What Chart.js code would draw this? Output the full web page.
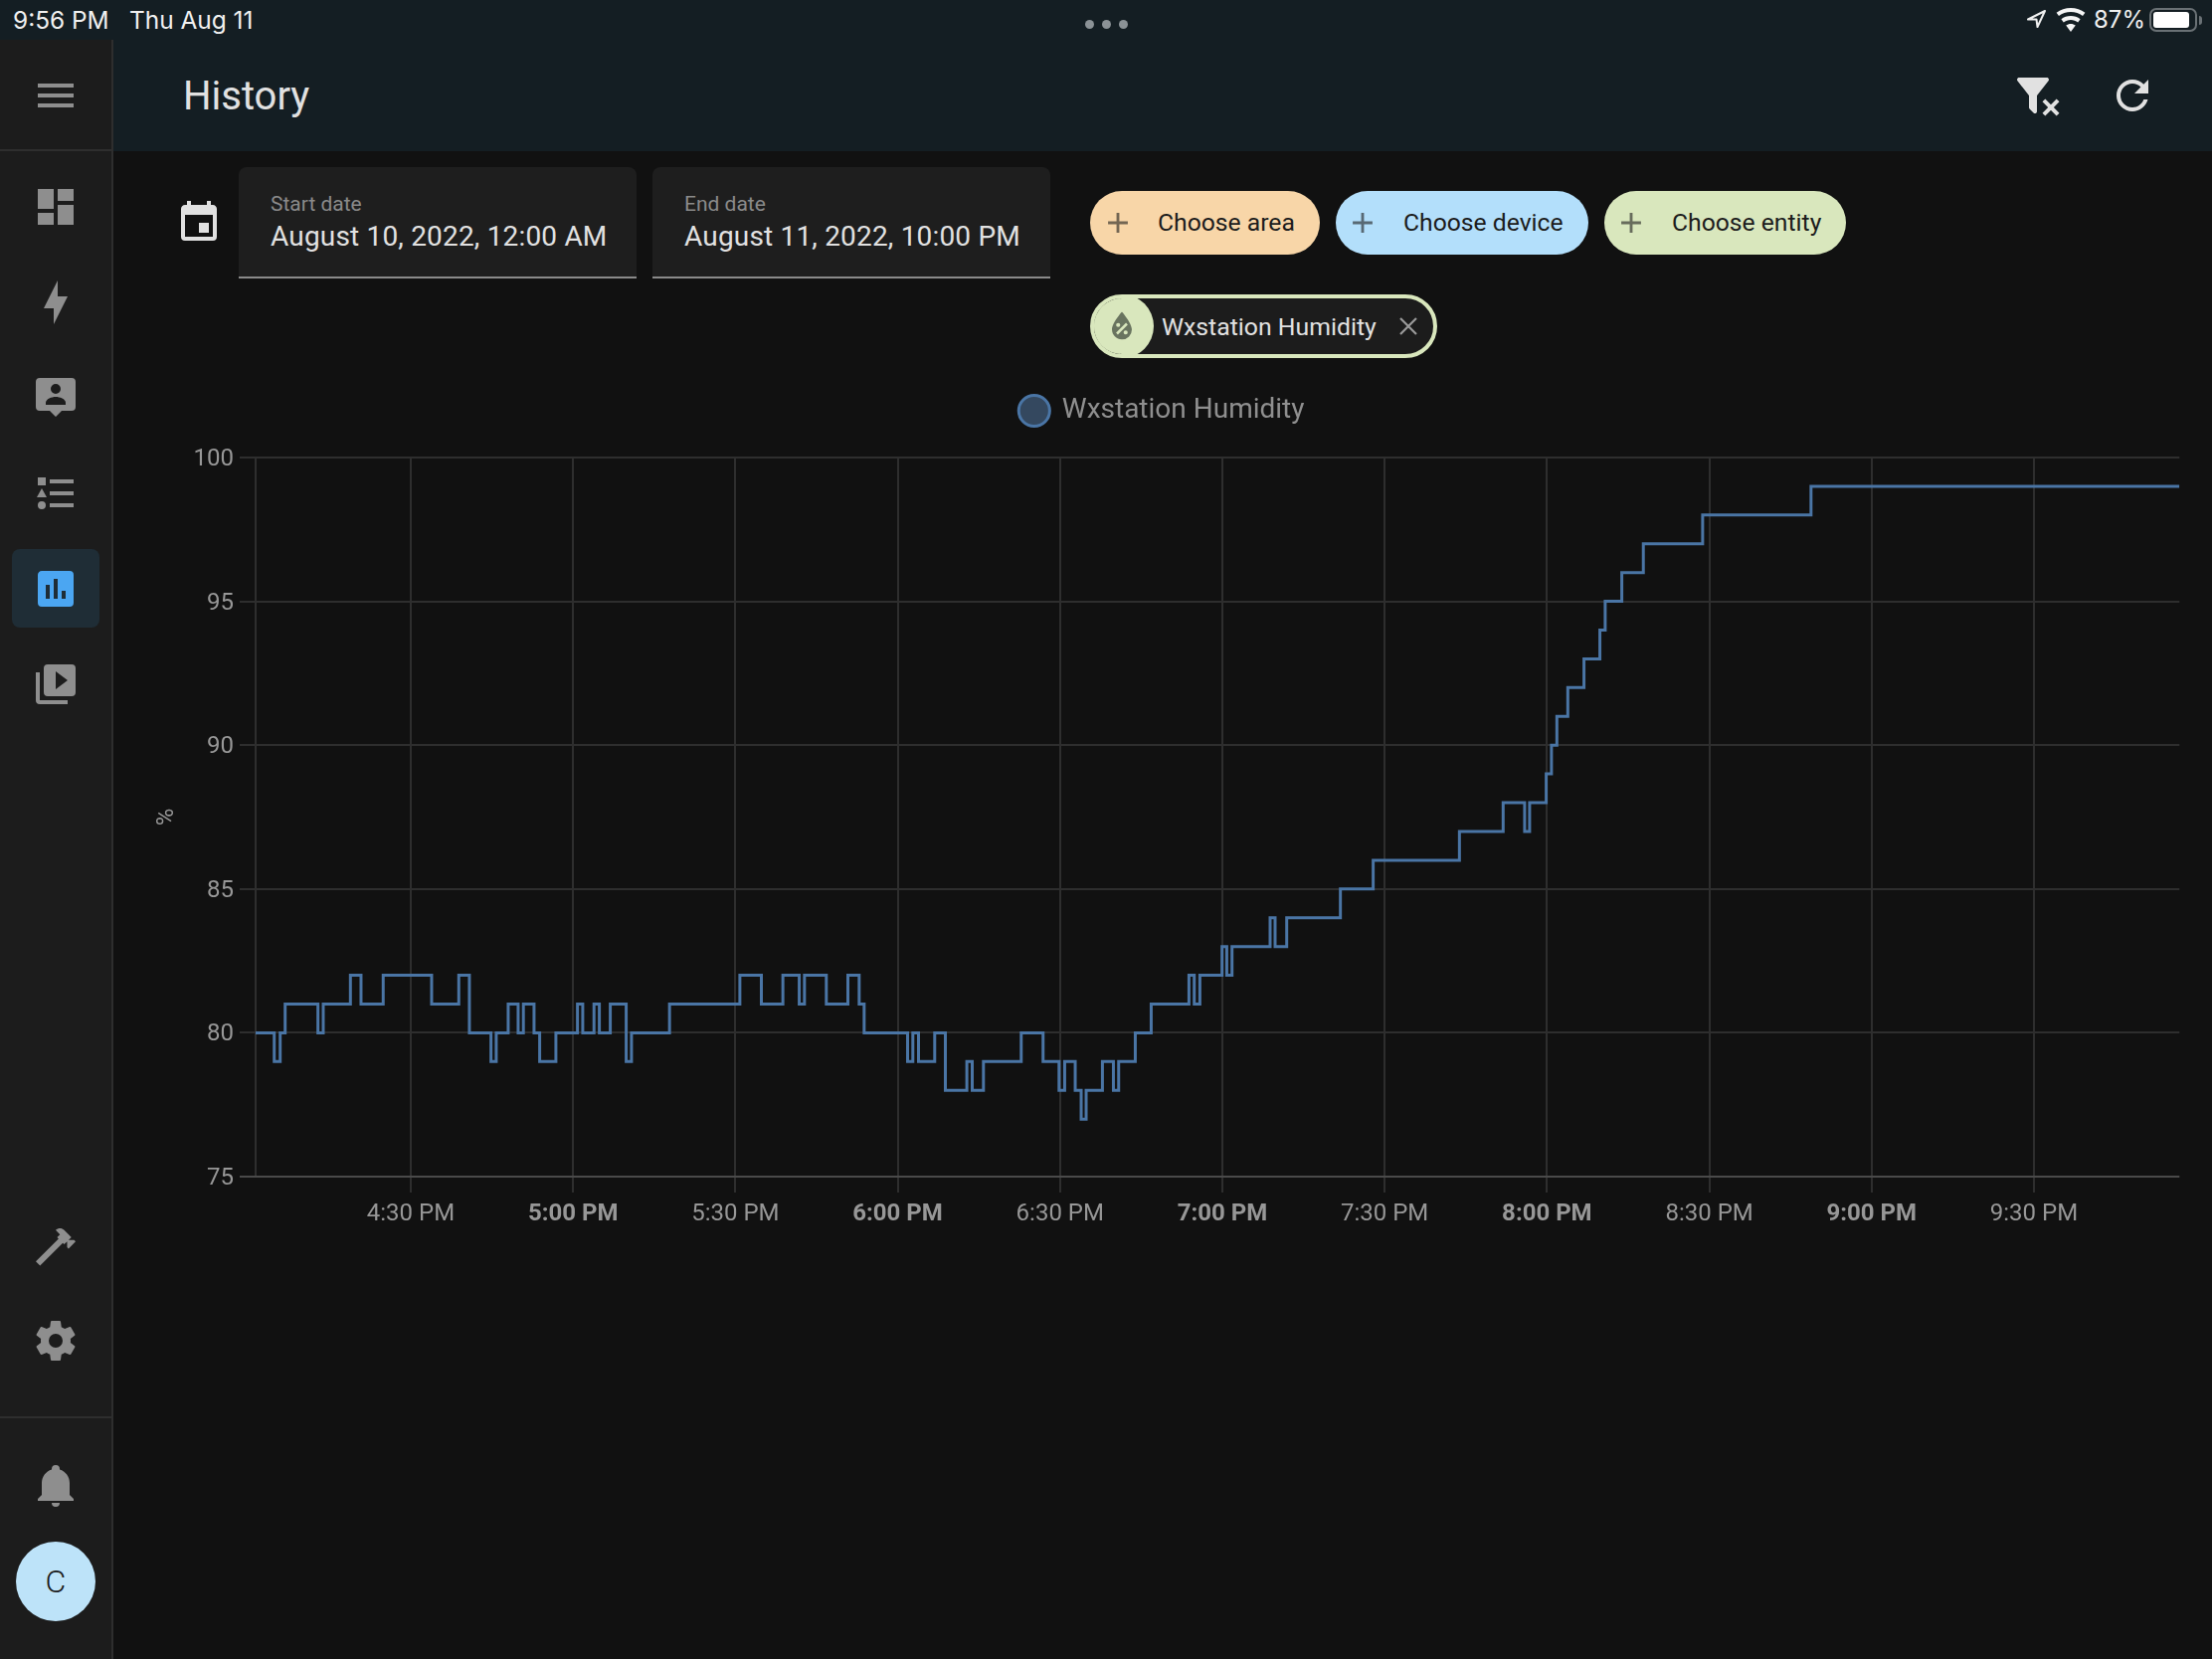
<!DOCTYPE html>
<html>
<head>
<meta charset="utf-8">
<title>History</title>
<script src="https://cdn.jsdelivr.net/npm/chart.js@4"></script>
<style>
  html, body { margin: 0; padding: 0; background: #111111; }
  #page { position: relative; width: 2224px; height: 1668px; overflow: hidden; background: #111111; font-family: Roboto, sans-serif; }
  .box { position: absolute; }
  .t { position: absolute; white-space: nowrap; line-height: 1; transform: translateY(-50%); }
  svg.i { position: absolute; width: 48px; height: 48px; fill: #8e8e8e; }
  canvas { position: absolute; left: 140px; top: 364px; }
  .chip { position: absolute; top: 192px; height: 64px; border-radius: 32px; }
  .chip svg { position: absolute; top: 15px; width: 34px; height: 34px; fill: #1c1c1c; opacity: .6; }
  .chip span { position: absolute; top: 32px; transform: translateY(-50%); font-size: 24.7px; line-height: 1; color: #1c1c1c; white-space: nowrap; }
</style>
</head>
<body>
<div id="page">
  <!-- top bar + sidebar -->
  <div class="box" style="left:0;top:0;width:2224px;height:152px;background:#141e23"></div>
  <div class="box" style="left:0;top:40px;width:112px;height:1628px;background:#1c1c1c"></div>
  <div class="box" style="left:112px;top:40px;width:2px;height:1628px;background:#2e2e2e"></div>
  <div class="box" style="left:0;top:150px;width:112px;height:2px;background:#2e2e2e"></div>
  <div class="box" style="left:0;top:1424px;width:112px;height:2px;background:#2e2e2e"></div>

  <!-- status bar -->
  <div class="t" style="left:13px;top:20px;font-size:24.4px;font-family:Inter;color:#f0f0f0">9:56 PM</div>
  <div class="t" style="left:130px;top:20px;font-size:24.4px;font-family:Inter;color:#f0f0f0">Thu Aug 11</div>
  <div class="box" style="left:1091px;top:20px;width:9px;height:9px;border-radius:50%;background:#8b9296"></div>
  <div class="box" style="left:1108px;top:20px;width:9px;height:9px;border-radius:50%;background:#8b9296"></div>
  <div class="box" style="left:1125px;top:20px;width:9px;height:9px;border-radius:50%;background:#8b9296"></div>
  <svg class="box" style="left:2037px;top:9px;width:21px;height:20px" viewBox="0 0 21 20"><path d="M19 2L2 10.5h8.5L11.5 18z" fill="none" stroke="#f0f0f0" stroke-width="2" stroke-linejoin="round"/></svg>
  <svg class="box" style="left:2066px;top:4px;width:32px;height:32px" viewBox="0 0 24 24" fill="#f5f5f5"><path d="M12,21L15.6,16.2C14.6,15.45 13.35,15 12,15C10.65,15 9.4,15.45 8.4,16.2L12,21M12,3C7.95,3 4.21,4.34 1.2,6.6L3,9C5.5,7.12 8.62,6 12,6C15.38,6 18.5,7.12 21,9L22.8,6.6C19.79,4.34 16.05,3 12,3M12,9C9.3,9 6.81,9.89 4.8,11.4L6.6,13.8C8.1,12.67 9.97,12 12,12C14.03,12 15.9,12.67 17.4,13.8L19.2,11.4C17.19,9.89 14.7,9 12,9Z"/></svg>
  <div class="t" style="left:2105px;top:20px;font-size:24px;font-family:Inter;color:#f0f0f0">87%</div>
  <div class="box" style="left:2161px;top:8px;width:44px;height:20px;border:2px solid #6a7175;border-radius:7px"></div>
  <div class="box" style="left:2165px;top:12px;width:36px;height:16px;background:#fff;border-radius:3px"></div>
  <div class="box" style="left:2211px;top:16px;width:3px;height:9px;background:#6a7175;border-radius:0 3px 3px 0"></div>

  <!-- header -->
  <div class="t" style="left:184px;top:97px;font-size:40px;color:#e1e1e1">History</div>
  <svg class="i" style="left:2024px;top:72px;fill:#e1e1e1" viewBox="0 0 24 24"><path d="M14.76,20.83L17.6,18L14.76,15.17L16.17,13.76L19,16.57L21.83,13.76L23.24,15.17L20.43,18L23.24,20.83L21.83,22.24L19,19.4L16.17,22.24L14.76,20.83M12,12V19.88C12.04,20.18 11.94,20.5 11.71,20.71C11.32,21.1 10.69,21.1 10.3,20.71L8.29,18.7C8.06,18.47 7.96,18.16 8,17.87V12H7.97L2.21,4.62C1.87,4.19 1.95,3.56 2.38,3.22C2.57,3.08 2.78,3 3,3V3H17V3C17.22,3 17.43,3.08 17.62,3.22C18.05,3.56 18.13,4.19 17.79,4.62L12.03,12H12Z"/></svg>
  <svg class="i" style="left:2120px;top:72px;fill:#e1e1e1" viewBox="0 0 24 24"><path d="M17.65,6.35C16.2,4.9 14.21,4 12,4A8,8 0 0,0 4,12A8,8 0 0,0 12,20C15.73,20 18.84,17.45 19.73,14H17.65C16.83,16.33 14.61,18 12,18A6,6 0 0,1 6,12A6,6 0 0,1 12,6C13.66,6 15.14,6.69 16.22,7.78L13,11H20V4L17.65,6.35Z"/></svg>

  <!-- sidebar icons -->
  <svg class="i" style="left:32px;top:72px" viewBox="0 0 24 24"><path d="M3,6H21V8H3V6M3,11H21V13H3V11M3,16H21V18H3V16Z"/></svg>
  <svg class="i" style="left:32px;top:184px" viewBox="0 0 24 24"><path d="M13,3V9H21V3M13,21H21V11H13M3,21H11V15H3M3,13H11V3H3V13Z"/></svg>
  <svg class="i" style="left:32px;top:280px" viewBox="0 0 24 24"><path d="M11 15H6L13 1V9H18L11 23V15Z"/></svg>
  <svg class="i" style="left:32px;top:375px" viewBox="0 0 24 24"><path fill-rule="evenodd" d="M4 2.5H20A2 2 0 0 1 22 4.5V17A2 2 0 0 1 20 19H15L12 22L9 19H4A2 2 0 0 1 2 17V4.5A2 2 0 0 1 4 2.5ZM12 5.5A2.5 2.5 0 1 0 12 10.5A2.5 2.5 0 1 0 12 5.5ZM7 16H17V15C17 13 14 12 12 12C10 12 7 13 7 15Z"/></svg>
  <svg class="i" style="left:32px;top:472px" viewBox="0 0 24 24"><path d="M5 9.5L7.5 14H2.5L5 9.5M3 4H7V8H3V4M5 20A2 2 0 0 0 7 18A2 2 0 0 0 5 16A2 2 0 0 0 3 18A2 2 0 0 0 5 20M9 5V7H21V5H9M9 19H21V17H9V19M9 13H21V11H9V13Z"/></svg>
  <div class="box" style="left:12px;top:552px;width:88px;height:79px;background:#1f2d36;border-radius:8px"></div>
  <svg class="i" style="left:32px;top:568px;fill:#4ba6f2" viewBox="0 0 24 24"><path fill-rule="evenodd" d="M9 17H7V10H9V17M13 17H11V7H13V17M17 17H15V13H17V17M19 3H5C3.89 3 3 3.89 3 5V19A2 2 0 0 0 5 21H19A2 2 0 0 0 21 19V5A2 2 0 0 0 19 3Z"/></svg>
  <svg class="i" style="left:32px;top:664px" viewBox="0 0 24 24"><path fill-rule="evenodd" d="M4 6H2V20A2 2 0 0 0 4 22H18V20H4V6M20 2H8A2 2 0 0 0 6 4V16A2 2 0 0 0 8 18H20A2 2 0 0 0 22 16V4A2 2 0 0 0 20 2M12 14.5V5.5L18 10Z"/></svg>
  <svg class="i" style="left:32px;top:1229px" viewBox="0 0 24 24"><path d="M2 19.63L13.43 8.2L12.72 7.5L14.14 6.07L12 3.89C13.2 2.7 15.09 2.7 16.27 3.89L19.87 7.5L18.45 8.91H21.29L22 9.62L18.45 13.21L17.74 12.5V9.62L16.27 11.04L15.56 10.33L4.13 21.76L2 19.63Z"/></svg>
  <svg class="i" style="left:32px;top:1324px" viewBox="0 0 24 24"><path d="M12,15.5A3.5,3.5 0 0,1 8.5,12A3.5,3.5 0 0,1 12,8.5A3.5,3.5 0 0,1 15.5,12A3.5,3.5 0 0,1 12,15.5M19.43,12.97C19.47,12.65 19.5,12.33 19.5,12C19.5,11.67 19.47,11.34 19.43,11L21.54,9.37C21.73,9.22 21.78,8.95 21.66,8.73L19.66,5.27C19.54,5.05 19.27,4.96 19.05,5.05L16.56,6.05C16.04,5.66 15.5,5.32 14.87,5.07L14.5,2.42C14.46,2.18 14.25,2 14,2H10C9.75,2 9.54,2.18 9.5,2.42L9.13,5.07C8.5,5.32 7.96,5.66 7.44,6.05L4.95,5.05C4.73,4.96 4.46,5.05 4.34,5.27L2.34,8.73C2.21,8.95 2.27,9.22 2.46,9.37L4.57,11C4.53,11.34 4.5,11.67 4.5,12C4.5,12.33 4.53,12.65 4.57,12.97L2.46,14.63C2.27,14.78 2.21,15.05 2.34,15.27L4.34,18.73C4.46,18.95 4.73,19.03 4.95,18.95L7.44,17.94C7.96,18.34 8.5,18.68 9.13,18.93L9.5,21.58C9.54,21.82 9.75,22 10,22H14C14.25,22 14.46,21.82 14.5,21.58L14.87,18.93C15.5,18.67 16.04,18.34 16.56,17.94L19.05,18.95C19.27,19.03 19.54,18.95 19.66,18.73L21.66,15.27C21.78,15.05 21.73,14.78 21.54,14.63L19.43,12.97Z"/></svg>
  <svg class="i" style="left:32px;top:1469px" viewBox="0 0 24 24"><path d="M21,19V20H3V19L5,17V11C5,7.9 7.03,5.17 10,4.29C10,4.19 10,4.1 10,4A2,2 0 0,1 12,2A2,2 0 0,1 14,4C14,4.1 14,4.19 14,4.29C16.97,5.17 19,7.9 19,11V17L21,19M14,21A2,2 0 0,1 12,23A2,2 0 0,1 10,21"/></svg>
  <div class="box" style="left:16px;top:1550px;width:80px;height:80px;border-radius:50%;background:#bde3f9"></div>
  <div class="t" style="left:16px;top:1590px;width:80px;text-align:center;font-size:32px;font-weight:300;color:#1c1c1c">C</div>

  <!-- date pickers -->
  <svg class="i" style="left:176px;top:200px;fill:#e1e1e1" viewBox="0 0 24 24"><path fill-rule="evenodd" d="M19,19H5V8H19M16,1V3H8V1H6V3H5C3.89,3 3,3.89 3,5V19A2,2 0 0,0 5,21H19A2,2 0 0,0 21,19V5C21,3.89 20.1,3 19,3H18V1M17,12H12V17H17V12Z"/></svg>
  <div class="box" style="left:240px;top:168px;width:400px;height:110px;background:#1e1e1e;border-radius:8px 8px 0 0;border-bottom:2px solid #8a8a8a"></div>
  <div class="t" style="left:272px;top:205px;font-size:21px;color:#8a8a8a">Start date</div>
  <div class="box" style="left:272px;top:218px;width:338px;height:40px;overflow:hidden"><div class="t" style="left:0;top:20px;font-size:28px;letter-spacing:.18px;color:#e1e1e1">August 10, 2022, 12:00 AM</div></div>
  <div class="box" style="left:656px;top:168px;width:400px;height:110px;background:#1e1e1e;border-radius:8px 8px 0 0;border-bottom:2px solid #8a8a8a"></div>
  <div class="t" style="left:688px;top:205px;font-size:21px;color:#8a8a8a">End date</div>
  <div class="box" style="left:688px;top:218px;width:338px;height:40px;overflow:hidden"><div class="t" style="left:0;top:20px;font-size:28px;letter-spacing:.18px;color:#e1e1e1">August 11, 2022, 10:00 PM</div></div>

  <!-- target picker chips -->
  <div class="chip" style="left:1096px;width:231px;background:#f8d6a8"><svg style="left:11px" viewBox="0 0 24 24"><path d="M19,13H13V19H11V13H5V11H11V5H13V11H19V13Z"/></svg><span style="left:68px">Choose area</span></div>
  <div class="chip" style="left:1343px;width:254px;background:#b3dffb"><svg style="left:10px" viewBox="0 0 24 24"><path d="M19,13H13V19H11V13H5V11H11V5H13V11H19V13Z"/></svg><span style="left:68px">Choose device</span></div>
  <div class="chip" style="left:1613px;width:243px;background:#d9e7bd"><svg style="left:10px" viewBox="0 0 24 24"><path d="M19,13H13V19H11V13H5V11H11V5H13V11H19V13Z"/></svg><span style="left:68px">Choose entity</span></div>

  <div class="box" style="left:1096px;top:296px;width:349px;height:64px;border-radius:32px;background:#1c1c1c;border:4px solid #d9e7bd;box-sizing:border-box;overflow:hidden">
    <div class="box" style="left:-4px;top:-4px;width:64px;height:64px;border-radius:50%;background:#d9e7bd"></div>
    <div class="box" style="left:-4px;top:-4px;width:30px;height:64px;background:#d9e7bd"></div>
  </div>
  <svg class="box" style="left:1108px;top:308px;width:40px;height:40px;fill:#69745f" viewBox="0 0 24 24"><path fill-rule="evenodd" d="M12,3.25C12,3.25 6,10 6,14C6,17.32 8.69,20 12,20A6,6 0 0,0 18,14C18,10 12,3.25 12,3.25M14.47,9.97L15.53,11.03L9.53,17.03L8.47,15.97M9.75,10A1.25,1.25 0 0,1 11,11.25A1.25,1.25 0 0,1 9.75,12.5A1.25,1.25 0 0,1 8.5,11.25A1.25,1.25 0 0,1 9.75,10M14.25,14.5A1.25,1.25 0 0,1 15.5,15.75A1.25,1.25 0 0,1 14.25,17A1.25,1.25 0 0,1 13,15.75A1.25,1.25 0 0,1 14.25,14.5Z"/></svg>
  <div class="t" style="left:1168px;top:329px;font-size:24.8px;color:#e1e1e1">Wxstation Humidity</div>
  <svg class="box" style="left:1404px;top:316px;width:24px;height:24px" viewBox="0 0 24 24"><path d="M4 4L20 20M20 4L4 20" stroke="#9a9a9a" stroke-width="2.2"/></svg>

  <canvas id="historyChart" width="2068" height="936"></canvas>
</div>

<script>
// minutes after 4:00 PM where the reading changes, and the reading from then on
const stepMinutes = [
  1.33, 4.77, 5.87, 6.79, 12.85, 13.83, 18.85, 20.81, 24.91, 33.86, 38.88, 40.84,
  44.83, 45.80, 48.01, 49.85, 50.82, 52.79, 53.83, 56.83, 60.82, 61.79, 63.87, 64.86,
  66.88, 69.82, 70.80, 77.83, 90.83, 94.81, 98.78, 101.80, 102.77, 106.81, 110.80, 112.88,
  113.80, 121.83, 122.80, 123.85, 126.84, 128.81, 132.78, 133.77, 135.85, 142.83, 146.87, 149.82,
  150.86, 152.81, 153.91, 154.83, 157.84, 159.87, 160.84, 163.91, 166.85, 173.83, 174.81, 175.85,
  179.95, 180.82, 181.79, 188.83, 189.75, 191.90, 201.82, 207.88, 223.82, 231.90, 235.87, 236.79,
  239.86, 240.83, 241.83, 243.85, 246.84, 249.78, 250.76, 253.83, 257.81, 268.77, 288.80, 356.9
];
const humidity = [
  80, 79, 80, 81, 80, 81, 82, 81, 82, 81, 82, 80,
  79, 80, 81, 80, 81, 80, 79, 80, 81, 80, 81, 80,
  81, 79, 80, 81, 82, 81, 82, 81, 82, 81, 82, 81,
  80, 79, 80, 79, 80, 78, 79, 78, 79, 80, 79, 78,
  79, 78, 77, 78, 79, 78, 79, 80, 81, 82, 81, 82,
  83, 82, 83, 84, 83, 84, 85, 86, 87, 88, 87, 88,
  89, 90, 91, 92, 93, 94, 95, 96, 97, 98, 99, 99
];
const tickMinutes = [1.33, 30, 60, 90, 120, 150, 180, 210, 240, 270, 300, 330];
const tickLabels = ['', '4:30 PM', '5:00 PM', '5:30 PM', '6:00 PM', '6:30 PM', '7:00 PM', '7:30 PM', '8:00 PM', '8:30 PM', '9:00 PM', '9:30 PM'];
const hourLabels = ['5:00 PM', '6:00 PM', '7:00 PM', '8:00 PM', '9:00 PM'];

const textColor = '#979797';
const gridColor = '#2e2e2e';

// the legend's own height leaves too little room above the plot
const legendRoom = {
  id: 'legendRoom',
  beforeLayout(chart) {
    const fit = chart.legend.fit;
    chart.legend.fit = function () {
      fit.call(this);
      this.height = 96;
    };
  }
};

new Chart(document.getElementById('historyChart'), {
  type: 'line',
  plugins: [legendRoom],
  data: {
    datasets: [{
      label: 'Wxstation Humidity',
      data: stepMinutes.map((m, i) => ({ x: m, y: humidity[i] })),
      borderColor: '#4a75a5',
      backgroundColor: '#34485f',
      borderWidth: 3,
      stepped: true,
      pointRadius: 0,
      fill: false
    }]
  },
  options: {
    responsive: false,
    animation: false,
    devicePixelRatio: 1,
    layout: { padding: { left: 6, right: 16.7 } },
    plugins: {
      tooltip: { enabled: false },
      legend: {
        position: 'top',
        labels: {
          color: '#8f8f8f',
          font: { family: 'Roboto', size: 28 },
          usePointStyle: true,
          pointStyle: 'circle',
          boxWidth: 30,
          boxHeight: 22,
          padding: 35
        }
      }
    },
    scales: {
      x: {
        type: 'linear',
        min: 1.33,
        max: 356.9,
        afterBuildTicks: scale => { scale.ticks = tickMinutes.map(v => ({ value: v })); },
        afterFit: scale => { scale.height = 117; },
        border: { display: false },
        grid: {
          color: gridColor,
          lineWidth: 2,
          tickLength: 16,
          tickColor: ctx => ctx.index === 0 ? 'transparent' : gridColor
        },
        ticks: {
          autoSkip: false,
          maxRotation: 0,
          padding: 8,
          color: textColor,
          callback: (v, i) => tickLabels[i],
          font: ctx => ({
            family: 'Roboto',
            size: 24,
            weight: hourLabels.includes(tickLabels[ctx.index]) ? 'bold' : 'normal'
          })
        }
      },
      y: {
        min: 75,
        max: 100,
        afterFit: scale => { scale.width = 111; },
        border: { display: false },
        title: {
          display: true,
          text: '%',
          color: textColor,
          font: { family: 'Roboto', size: 24 },
          padding: { top: 8, bottom: 0 }
        },
        grid: {
          color: ctx => ctx.tick && ctx.tick.value === 75 ? '#4a4a4a' : gridColor,
          lineWidth: 2,
          tickLength: 16,
          tickColor: ctx => ctx.tick && ctx.tick.value === 75 ? '#4a4a4a' : gridColor
        },
        ticks: {
          stepSize: 5,
          padding: 6,
          labelOffset: 2,
          color: textColor,
          font: { family: 'Roboto', size: 24 }
        }
      }
    }
  }
});
</script>
</body>
</html>
